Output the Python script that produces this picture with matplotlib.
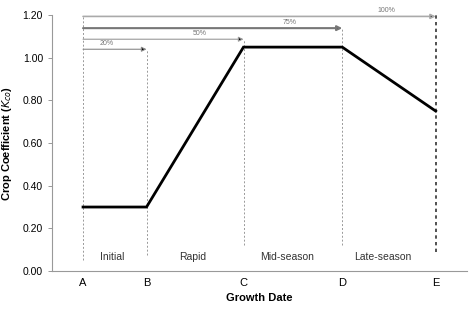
import numpy as np
import matplotlib
matplotlib.use("Agg")
import matplotlib.pyplot as plt

# growth stage points (A..E) and crop coefficient values
stage_pts = ["A", "B", "C", "D", "E"]
stage_x = [0, 18, 45.5, 73.5, 100]
kc_vals = [0.30, 0.30, 1.05, 1.05, 0.75]

stage_names = ["Initial", "Rapid", "Mid-season", "Late-season"]
stage_name_x = [8.2, 31, 57.8, 85]

pct_labels = ["20%", "50%", "75%", "100%"]
pct_end_x = [18, 45.5, 73.5, 100]
pct_y = [1.04, 1.087, 1.139, 1.194]
pct_label_x = [6.8, 33, 58.6, 86]

# vertical dashed guide extents (bottom, top)
guide_bottom = [0.05, 0.075, 0.12, 0.12, 0.09]
guide_top = [1.20, 1.04, 1.087, 1.139, 1.20]

plt.rcParams['font.family'] = ['Liberation Sans', 'DejaVu Sans']

fig = plt.figure(figsize=(4.74, 3.22), dpi=100)
ax = fig.add_axes([0.1097, 0.1584, 0.875, 0.7946])

# dashed stage boundaries
for i, x in enumerate(stage_x):
    lw = 1.2 if i == 4 else 0.7
    col = "#333333" if i == 4 else "#999999"
    ax.plot([x, x], [guide_bottom[i], guide_top[i]], ls=(0, (2, 2)),
            color=col, lw=lw, clip_on=False)

# duration arrows
arrow_cols = ["#888888", "#999999", "#777777", "#aaaaaa"]
arrow_lw = [0.8, 0.8, 1.5, 1.2]
for i in range(len(pct_labels)):
    ax.annotate("", xy=(pct_end_x[i], pct_y[i]), xytext=(stage_x[0], pct_y[i]),
                arrowprops=dict(arrowstyle="-|>", color=arrow_cols[i], lw=arrow_lw[i],
                                mutation_scale=7, shrinkA=0, shrinkB=0,
                                ec=arrow_cols[i], fc="black"),
                annotation_clip=False)
    ax.text(pct_label_x[i], pct_y[i] + 0.012, pct_labels[i], fontsize=5,
            color="#777777", ha="center", va="bottom")

# crop coefficient curve
ax.plot(stage_x, kc_vals, color="black", lw=2.0, solid_joinstyle="miter")

for name, x in zip(stage_names, stage_name_x):
    ax.text(x, 0.065, name, fontsize=7.5, color="#333333", ha="center", va="center")

ax.set_xlim(-8.8, 108.8)
ax.set_ylim(0, 1.2)
ax.set_yticks(np.arange(0, 1.21, 0.2))
ax.set_yticklabels([f"{v:.2f}" for v in np.arange(0, 1.21, 0.2)], fontsize=7.5)
ax.set_xticks(stage_x)
ax.set_xticklabels(stage_pts, fontsize=8)
ax.tick_params(axis="x", length=0, pad=5)
ax.tick_params(axis="y", length=3, width=0.6, color="#888888")

for s in ["top", "right"]:
    ax.spines[s].set_visible(False)
for s in ["left", "bottom"]:
    ax.spines[s].set_color("#999999")
    ax.spines[s].set_linewidth(0.8)

ax.set_ylabel(r"Crop Coefficient ($K_{co}$)", fontsize=8, fontweight="bold", labelpad=6)
ax.set_xlabel("Growth Date", fontsize=8, fontweight="bold", labelpad=4)

fig.savefig("out.png", dpi=100)
